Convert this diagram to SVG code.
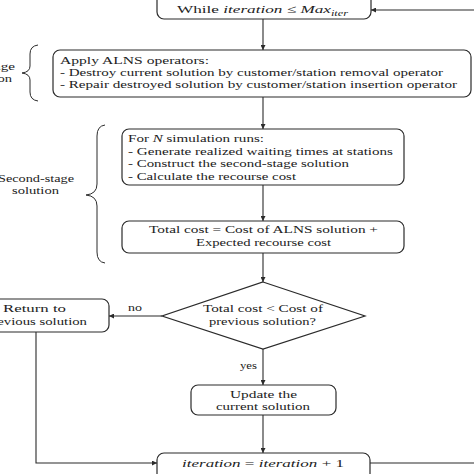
<svg xmlns="http://www.w3.org/2000/svg" width="474" height="474" viewBox="0 0 474 474">
<style>
  .box { fill: #ffffff; stroke: #2b2b2b; stroke-width: 1.2; }
  .conn { fill: none; stroke: #2b2b2b; stroke-width: 1.1; }
  .brace { fill: none; stroke: #2b2b2b; stroke-width: 1; }
  text { font-family: "Liberation Serif", "DejaVu Serif", serif; font-size: 11.2px; fill: #222222; }
  .c { text-anchor: middle; }
  .i { font-style: italic; }
</style>
<defs>
  <marker id="arr" viewBox="0 0 6 6" refX="6" refY="3" markerWidth="6" markerHeight="5" markerUnits="userSpaceOnUse" orient="auto">
    <path d="M0,0 L6,3 L0,6 z" fill="#2b2b2b"/>
  </marker>
</defs>
<rect width="474" height="474" fill="#ffffff"/>

<g id="connectors">
  <line class="conn" x1="263" y1="19" x2="263" y2="50" marker-end="url(#arr)"/>
  <line class="conn" x1="263" y1="97" x2="263" y2="129" marker-end="url(#arr)"/>
  <line class="conn" x1="263" y1="185" x2="263" y2="221" marker-end="url(#arr)"/>
  <line class="conn" x1="263" y1="253" x2="263" y2="282" marker-end="url(#arr)"/>
  <line class="conn" x1="162" y1="316" x2="109" y2="316" marker-end="url(#arr)"/>
  <line class="conn" x1="263" y1="349" x2="263" y2="385" marker-end="url(#arr)"/>
  <line class="conn" x1="263" y1="415" x2="263" y2="453" marker-end="url(#arr)"/>
  <polyline class="conn" points="36,332 36,463 157,463" marker-end="url(#arr)"/>
  <polyline class="conn" points="370,463 480,463 480,10 371,10" marker-end="url(#arr)"/>
  <text x="135" y="310.5" class="c" textLength="14" lengthAdjust="spacingAndGlyphs">no</text>
  <text x="248.5" y="369" class="c" textLength="17" lengthAdjust="spacingAndGlyphs">yes</text>
</g>

<g id="while">
  <rect class="box" x="157" y="-8" width="214" height="27" rx="7"/>
  <text x="262.5" y="13" class="c" textLength="171" lengthAdjust="spacingAndGlyphs">While <tspan class="i">iteration</tspan> ≤ <tspan class="i">Max</tspan><tspan class="i" font-size="8" dy="2.5">iter</tspan></text>
</g>

<g id="alns">
  <rect class="box" x="53" y="50" width="418" height="47" rx="7"/>
  <text x="60" y="64.3" textLength="149" lengthAdjust="spacingAndGlyphs">Apply ALNS operators:</text>
  <text x="60" y="76.3" textLength="383" lengthAdjust="spacingAndGlyphs">- Destroy current solution by customer/station removal operator</text>
  <text x="60" y="88.3" textLength="397" lengthAdjust="spacingAndGlyphs">- Repair destroyed solution by customer/station insertion operator</text>
</g>

<g id="first-stage-label">
  <path class="brace" d="M38,45 Q30,46 30,54 L30,66 Q30,72 22,73 Q30,74 30,80 L30,92 Q30,100 38,101"/>
  <text x="-49" y="70" textLength="64" lengthAdjust="spacingAndGlyphs">First-stage</text>
  <text x="-35" y="82" textLength="47" lengthAdjust="spacingAndGlyphs">solution</text>
</g>

<g id="simulation">
  <rect class="box" x="122" y="129" width="282" height="56" rx="7"/>
  <text x="128" y="142" textLength="136" lengthAdjust="spacingAndGlyphs">For <tspan class="i">N</tspan> simulation runs:</text>
  <text x="128" y="154.6" textLength="265" lengthAdjust="spacingAndGlyphs">- Generate realized waiting times at stations</text>
  <text x="128" y="167.2" textLength="221" lengthAdjust="spacingAndGlyphs">- Construct the second-stage solution</text>
  <text x="128" y="179.8" textLength="168" lengthAdjust="spacingAndGlyphs">- Calculate the recourse cost</text>
</g>

<g id="total-cost">
  <rect class="box" x="122" y="221" width="282" height="32" rx="7"/>
  <text x="263.5" y="233" class="c" textLength="229" lengthAdjust="spacingAndGlyphs">Total cost = Cost of ALNS solution +</text>
  <text x="263.5" y="246" class="c" textLength="135" lengthAdjust="spacingAndGlyphs">Expected recourse cost</text>
</g>

<g id="second-stage-label">
  <path class="brace" d="M105,125 Q97,126 97,136 L97,184 Q97,194 86,195 Q97,196 97,206 L97,252 Q97,262 105,263"/>
  <text x="36" y="181.7" class="c" textLength="76" lengthAdjust="spacingAndGlyphs">Second-stage</text>
  <text x="35.5" y="193.5" class="c" textLength="47" lengthAdjust="spacingAndGlyphs">solution</text>
</g>

<g id="decision">
  <polygon class="box" points="263,282 365,316 263,349 162,316"/>
  <text x="263" y="312" class="c" textLength="120" lengthAdjust="spacingAndGlyphs">Total cost &lt; Cost of</text>
  <text x="262.5" y="324.5" class="c" textLength="107" lengthAdjust="spacingAndGlyphs">previous solution?</text>
</g>

<g id="return">
  <rect class="box" x="-40" y="299" width="149" height="33" rx="7"/>
  <text x="34.5" y="312" class="c" textLength="63" lengthAdjust="spacingAndGlyphs">Return to</text>
  <text x="36" y="324.5" class="c" textLength="102" lengthAdjust="spacingAndGlyphs">previous solution</text>
</g>

<g id="update">
  <rect class="box" x="191" y="385" width="145" height="30" rx="7"/>
  <text x="263.5" y="397.5" class="c" textLength="67" lengthAdjust="spacingAndGlyphs">Update the</text>
  <text x="263" y="410" class="c" textLength="94" lengthAdjust="spacingAndGlyphs">current solution</text>
</g>

<g id="increment">
  <rect class="box" x="157" y="453" width="213" height="30" rx="7"/>
  <text x="263" y="466.7" class="c" textLength="162" lengthAdjust="spacingAndGlyphs"><tspan class="i">iteration</tspan> = <tspan class="i">iteration</tspan> + 1</text>
</g>
</svg>
